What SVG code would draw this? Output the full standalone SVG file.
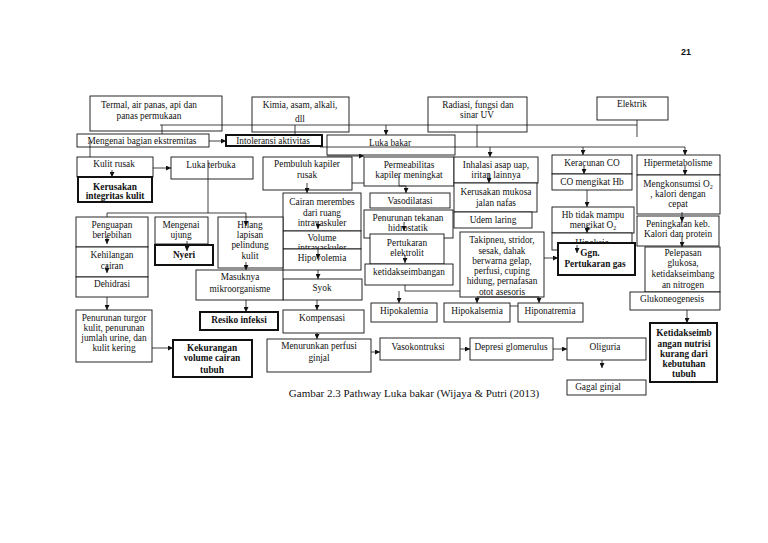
<svg xmlns="http://www.w3.org/2000/svg" width="768" height="543" viewBox="0 0 768 543">
<defs>
<style>
.n rect{fill:#fff;stroke:#111;stroke-width:0.9}
.k rect{stroke-width:2}
text{font-family:"Liberation Serif","Times New Roman",serif;font-size:9.3px;text-anchor:middle;fill:#111}
.k text{font-weight:bold}
.c line,.c polyline{stroke:#111;stroke-width:0.8;fill:none}
.a{marker-end:url(#ah)}
</style>
<marker id="ah" viewBox="0 0 6 6" refX="6" refY="3" markerWidth="5" markerHeight="5" orient="auto" markerUnits="userSpaceOnUse"><path d="M0,0L6,3L0,6z" fill="#111"/></marker>
</defs>
<rect width="768" height="543" fill="#fff"/>
<text x="686" y="55" style="font-family:'Liberation Sans',Arial,sans-serif;font-size:9px;font-weight:bold">21</text>

<g id="termal" class="n"><rect x="90" y="96" width="132" height="35"/><text x="149" y="108">Termal, air panas, api dan</text><text x="149" y="119">panas permukaan</text></g>
<g id="kimia" class="n"><rect x="252" y="97" width="97" height="35"/><text x="300" y="108">Kimia, asam, alkali,</text><text x="300" y="122">dll</text></g>
<g id="radiasi" class="n"><rect x="428" y="97" width="99" height="35"/><text x="478" y="108">Radiasi, fungsi dan</text><text x="477" y="118">sinar UV</text></g>
<g id="elektrik" class="n"><rect x="597" y="97" width="71" height="23"/><text x="632" y="107">Elektrik</text></g>

<g id="ekstremitas" class="n"><rect x="77" y="134" width="132" height="13"/><text x="142" y="144">Mengenai bagian ekstremitas</text></g>
<g id="intoleransi" class="n k"><rect x="226" y="135" width="96" height="11"/><text x="273" y="144" style="font-weight:normal">Intoleransi aktivitas</text></g>
<g id="lukabakar" class="n"><rect x="327" y="135" width="128" height="20"/><text x="390" y="146">Luka bakar</text></g>

<g id="kulitrusak" class="n"><rect x="77" y="157" width="76" height="20"/><text x="114" y="167">Kulit rusak</text></g>
<g id="integritas" class="n k"><rect x="78" y="177" width="74" height="25"/><text x="115" y="190">Kerusakan</text><text x="115" y="199">integritas kulit</text></g>
<g id="lukaterbuka" class="n"><rect x="171" y="157" width="82" height="22"/><text x="211" y="168">Luka terbuka</text></g>
<g id="pembuluh" class="n"><rect x="263" y="157" width="89" height="33"/><text x="307" y="167">Pembuluh kapiler</text><text x="307" y="178">rusak</text></g>
<g id="permeabilitas" class="n"><rect x="364" y="157" width="90" height="29"/><text x="409" y="168">Permeabilitas</text><text x="409" y="178">kapiler meningkat</text></g>
<g id="inhalasi" class="n"><rect x="454" y="157" width="84" height="26"/><text x="496" y="168">Inhalasi asap uap,</text><text x="496" y="178">iritan lainnya</text></g>
<g id="keracunan" class="n"><rect x="552" y="155" width="80" height="19"/><text x="592" y="166">Keracunan CO</text></g>
<g id="comengikat" class="n"><rect x="552" y="174" width="80" height="16"/><text x="592" y="185">CO mengikat Hb</text></g>
<g id="hipermetabolisme" class="n"><rect x="637" y="155" width="83" height="20"/><text x="678" y="166">Hipermetabolisme</text></g>
<g id="mengkonsumsi" class="n"><rect x="637" y="175" width="83" height="39"/><text x="678" y="187">Mengkonsumsi O<tspan font-size="6" dy="2">2</tspan></text><text x="678" y="197">, kalori dengan</text><text x="678" y="207">cepat</text></g>

<g id="mukosa" class="n"><rect x="454" y="183" width="83" height="29"/><text x="496" y="195">Kerusakan mukosa</text><text x="496" y="206">jalan nafas</text></g>
<g id="udem" class="n"><rect x="454" y="212" width="78" height="16"/><text x="493" y="223">Udem laring</text></g>
<g id="hbtidak" class="n"><rect x="552" y="207" width="82" height="26"/><text x="593" y="218">Hb tidak mampu</text><text x="593" y="228">mengikat O<tspan font-size="6" dy="2">2</tspan></text></g>
<g id="hipoksia" class="n"><rect x="552" y="233" width="80" height="17"/><text x="592" y="246">Hipoksia</text></g>
<g id="ggn" class="n k"><rect x="558" y="243" width="77" height="32"/><text x="590" y="256">Ggn.</text><text x="595" y="267">Pertukaran gas</text></g>
<g id="peningkatan" class="n"><rect x="637" y="216" width="82" height="30"/><text x="678" y="227">Peningkatan keb.</text><text x="678" y="237">Kalori dan protein</text></g>
<g id="pelepasan" class="n"><rect x="645" y="247" width="75" height="45"/><text x="683" y="256">Pelepasan</text><text x="683" y="266">glukosa,</text><text x="683" y="277">ketidakseimbang</text><text x="683" y="288">an nitrogen</text></g>
<g id="glukoneogenesis" class="n"><rect x="630" y="292" width="90" height="18"/><text x="672" y="302">Glukoneogenesis</text></g>
<g id="nutrisi" class="n k"><rect x="650" y="323" width="67" height="59"/><text x="684" y="336">Ketidakseimb</text><text x="684" y="347">angan nutrisi</text><text x="684" y="357">kurang dari</text><text x="684" y="367">kebutuhan</text><text x="684" y="377">tubuh</text></g>

<g id="cairan" class="n"><rect x="283" y="193" width="78" height="38"/><text x="322" y="205">Cairan merembes</text><text x="322" y="216">dari ruang</text><text x="322" y="226">intravaskuler</text></g>
<g id="volume" class="n"><rect x="283" y="231" width="78" height="18"/><text x="322" y="241">Volume</text><text x="322" y="251">intravaskuler</text></g>
<g id="hipovolemia" class="n"><rect x="283" y="249" width="78" height="21"/><text x="322" y="261">Hipovolemia</text></g>
<g id="syok" class="n"><rect x="283" y="279" width="79" height="21"/><text x="322" y="291">Syok</text></g>
<g id="kompensasi" class="n"><rect x="283" y="310" width="81" height="23"/><text x="322" y="321">Kompensasi</text></g>
<g id="perfusi" class="n"><rect x="267" y="339" width="104" height="33"/><text x="319" y="349">Menurunkan perfusi</text><text x="319" y="361">ginjal</text></g>

<g id="vasodilatasi" class="n"><rect x="370" y="193" width="80" height="15"/><text x="410" y="204">Vasodilatasi</text></g>
<g id="hidrostatik" class="n"><rect x="364" y="210" width="89" height="28"/><text x="408" y="221">Penurunan tekanan</text><text x="408" y="231">hidrostatik</text></g>
<g id="elektrolit" class="n"><rect x="370" y="234" width="74" height="30"/><text x="407" y="246">Pertukaran</text><text x="407" y="256">elektrolit</text></g>
<g id="ketidakseimbangan" class="n"><rect x="365" y="264" width="88" height="21"/><text x="409" y="275">ketidakseimbangan</text></g>

<g id="takipneu" class="n"><rect x="460" y="232" width="84" height="65"/><text x="502" y="243">Takipneu, stridor,</text><text x="502" y="254">sesak, dahak</text><text x="502" y="264">berwarna gelap,</text><text x="502" y="274">perfusi, cuping</text><text x="502" y="284">hidung, pernafasan</text><text x="502" y="295">otot asesoris</text></g>
<g id="hipokalemia" class="n"><rect x="371" y="303" width="66" height="19"/><text x="404" y="314">Hipokalemia</text></g>
<g id="hipokalsemia" class="n"><rect x="444" y="303" width="66" height="19"/><text x="477" y="314">Hipokalsemia</text></g>
<g id="hiponatremia" class="n"><rect x="518" y="303" width="65" height="19"/><text x="550" y="314">Hiponatremia</text></g>

<g id="penguapan" class="n"><rect x="76" y="217" width="72" height="30"/><text x="112" y="228">Penguapan</text><text x="112" y="238">berlebihan</text></g>
<g id="kehilangan" class="n"><rect x="76" y="247" width="72" height="30"/><text x="112" y="258">Kehilangan</text><text x="112" y="269">cairan</text></g>
<g id="dehidrasi" class="n"><rect x="76" y="277" width="72" height="20"/><text x="112" y="287">Dehidrasi</text></g>
<g id="ujung" class="n"><rect x="155" y="217" width="53" height="27"/><text x="181" y="228">Mengenai</text><text x="181" y="238">ujung</text></g>
<g id="nyeri" class="n k"><rect x="155" y="245" width="58" height="20"/><text x="184" y="258">Nyeri</text></g>
<g id="hilang" class="n"><rect x="218" y="217" width="65" height="51"/><text x="250" y="228">Hilang</text><text x="250" y="238">lapisan</text><text x="250" y="248">pelindung</text><text x="250" y="259">kulit</text></g>
<g id="masuknya" class="n"><rect x="196" y="270" width="87" height="30"/><text x="240" y="280">Masuknya</text><text x="240" y="292">mikroorganisme</text></g>
<g id="infeksi" class="n k"><rect x="200" y="312" width="78" height="18"/><text x="239" y="323">Resiko infeksi</text></g>
<g id="turgor" class="n"><rect x="76" y="310" width="76" height="52"/><text x="114" y="321">Penurunan turgor</text><text x="114" y="331">kulit, penurunan</text><text x="114" y="341">jumlah urine, dan</text><text x="114" y="351">kulit kering</text></g>
<g id="kekurangan" class="n k"><rect x="173" y="340" width="79" height="37"/><text x="212" y="351">Kekurangan</text><text x="212" y="361">volume cairan</text><text x="212" y="373">tubuh</text></g>
<g id="vasokontruksi" class="n"><rect x="380" y="338" width="80" height="22"/><text x="418" y="350">Vasokontruksi</text></g>
<g id="glomerulus" class="n"><rect x="470" y="338" width="83" height="22"/><text x="511" y="350">Depresi glomerulus</text></g>
<g id="oliguria" class="n"><rect x="567" y="338" width="79" height="22"/><text x="605" y="350">Oliguria</text></g>
<g id="gagal" class="n"><rect x="567" y="380" width="79" height="15"/><text x="598" y="390">Gagal ginjal</text></g>

<g id="connectors" class="c">
<line x1="160" y1="125" x2="637" y2="125"/>
<line x1="162" y1="125" x2="162" y2="134"/>
<line x1="295" y1="125" x2="295" y2="135"/>
<line class="a" x1="386" y1="125" x2="386" y2="135"/>
<line x1="477" y1="125" x2="477" y2="147"/>
<line x1="637" y1="120" x2="637" y2="137"/>
<line x1="320" y1="147" x2="685" y2="147"/>
<line class="a" x1="490" y1="147" x2="490" y2="157"/>
<line class="a" x1="583" y1="147" x2="583" y2="155"/>
<line class="a" x1="685" y1="147" x2="685" y2="155"/>
<line class="a" x1="209" y1="141" x2="226" y2="141"/>
<line x1="90" y1="141" x2="90" y2="157"/>
<line class="a" x1="153" y1="168" x2="171" y2="168"/>
<line class="a" x1="112" y1="170" x2="112" y2="177"/>
<line x1="208" y1="160" x2="208" y2="213"/>
<line x1="107" y1="213" x2="246" y2="213"/>
<line x1="107" y1="213" x2="107" y2="217"/>
<line class="a" x1="246" y1="213" x2="246" y2="226"/>
<line class="a" x1="107" y1="236" x2="107" y2="244"/>
<line class="a" x1="107" y1="265" x2="107" y2="273"/>
<line class="a" x1="107" y1="297" x2="107" y2="310"/>
<line class="a" x1="187" y1="241" x2="187" y2="251"/>
<line class="a" x1="246" y1="262" x2="246" y2="270"/>
<line class="a" x1="246" y1="300" x2="246" y2="312"/>
<line class="a" x1="152" y1="348" x2="173" y2="348"/>
<line class="a" x1="307" y1="183" x2="307" y2="193"/>
<line class="a" x1="318" y1="221" x2="318" y2="229"/>
<line class="a" x1="318" y1="247" x2="318" y2="259"/>
<line class="a" x1="318" y1="270" x2="318" y2="279"/>
<line class="a" x1="317" y1="300" x2="317" y2="310"/>
<line class="a" x1="317" y1="333" x2="317" y2="339"/>
<line class="a" x1="371" y1="352" x2="380" y2="352"/>
<line class="a" x1="460" y1="349" x2="470" y2="349"/>
<line class="a" x1="553" y1="349" x2="567" y2="349"/>
<line class="a" x1="602" y1="360" x2="602" y2="368"/>
<line x1="352" y1="183" x2="364" y2="183"/>
<line class="a" x1="327" y1="156" x2="364" y2="156"/>
<polyline class="a" points="399,176 399,186 406,186 406,193"/>
<line class="a" x1="404" y1="222" x2="404" y2="231"/>
<line class="a" x1="405" y1="255" x2="405" y2="263"/>
<polyline points="405,285 405,291 460,291"/>
<line class="a" x1="399" y1="291" x2="399" y2="303"/>
<line x1="477" y1="297" x2="539" y2="297"/>
<line class="a" x1="477" y1="297" x2="477" y2="303"/>
<line class="a" x1="539" y1="297" x2="539" y2="303"/>
<line x1="510" y1="306" x2="518" y2="306"/>
<line class="a" x1="489" y1="173" x2="489" y2="183"/>
<line class="a" x1="544" y1="258" x2="558" y2="258"/>
<line class="a" x1="584" y1="166" x2="584" y2="174"/>
<line class="a" x1="587" y1="190" x2="587" y2="207"/>
<line class="a" x1="587" y1="225" x2="587" y2="233"/>
<line class="a" x1="577" y1="245" x2="577" y2="253"/>
<line class="a" x1="685" y1="166" x2="685" y2="175"/>
<line class="a" x1="682" y1="212" x2="682" y2="222"/>
<line class="a" x1="682" y1="236" x2="682" y2="247"/>
<line class="a" x1="687" y1="310" x2="687" y2="323"/>
</g>

<text x="414" y="397" style="font-size:11px">Gambar 2.3 Pathway Luka bakar (Wijaya &amp; Putri (2013)</text>
</svg>
